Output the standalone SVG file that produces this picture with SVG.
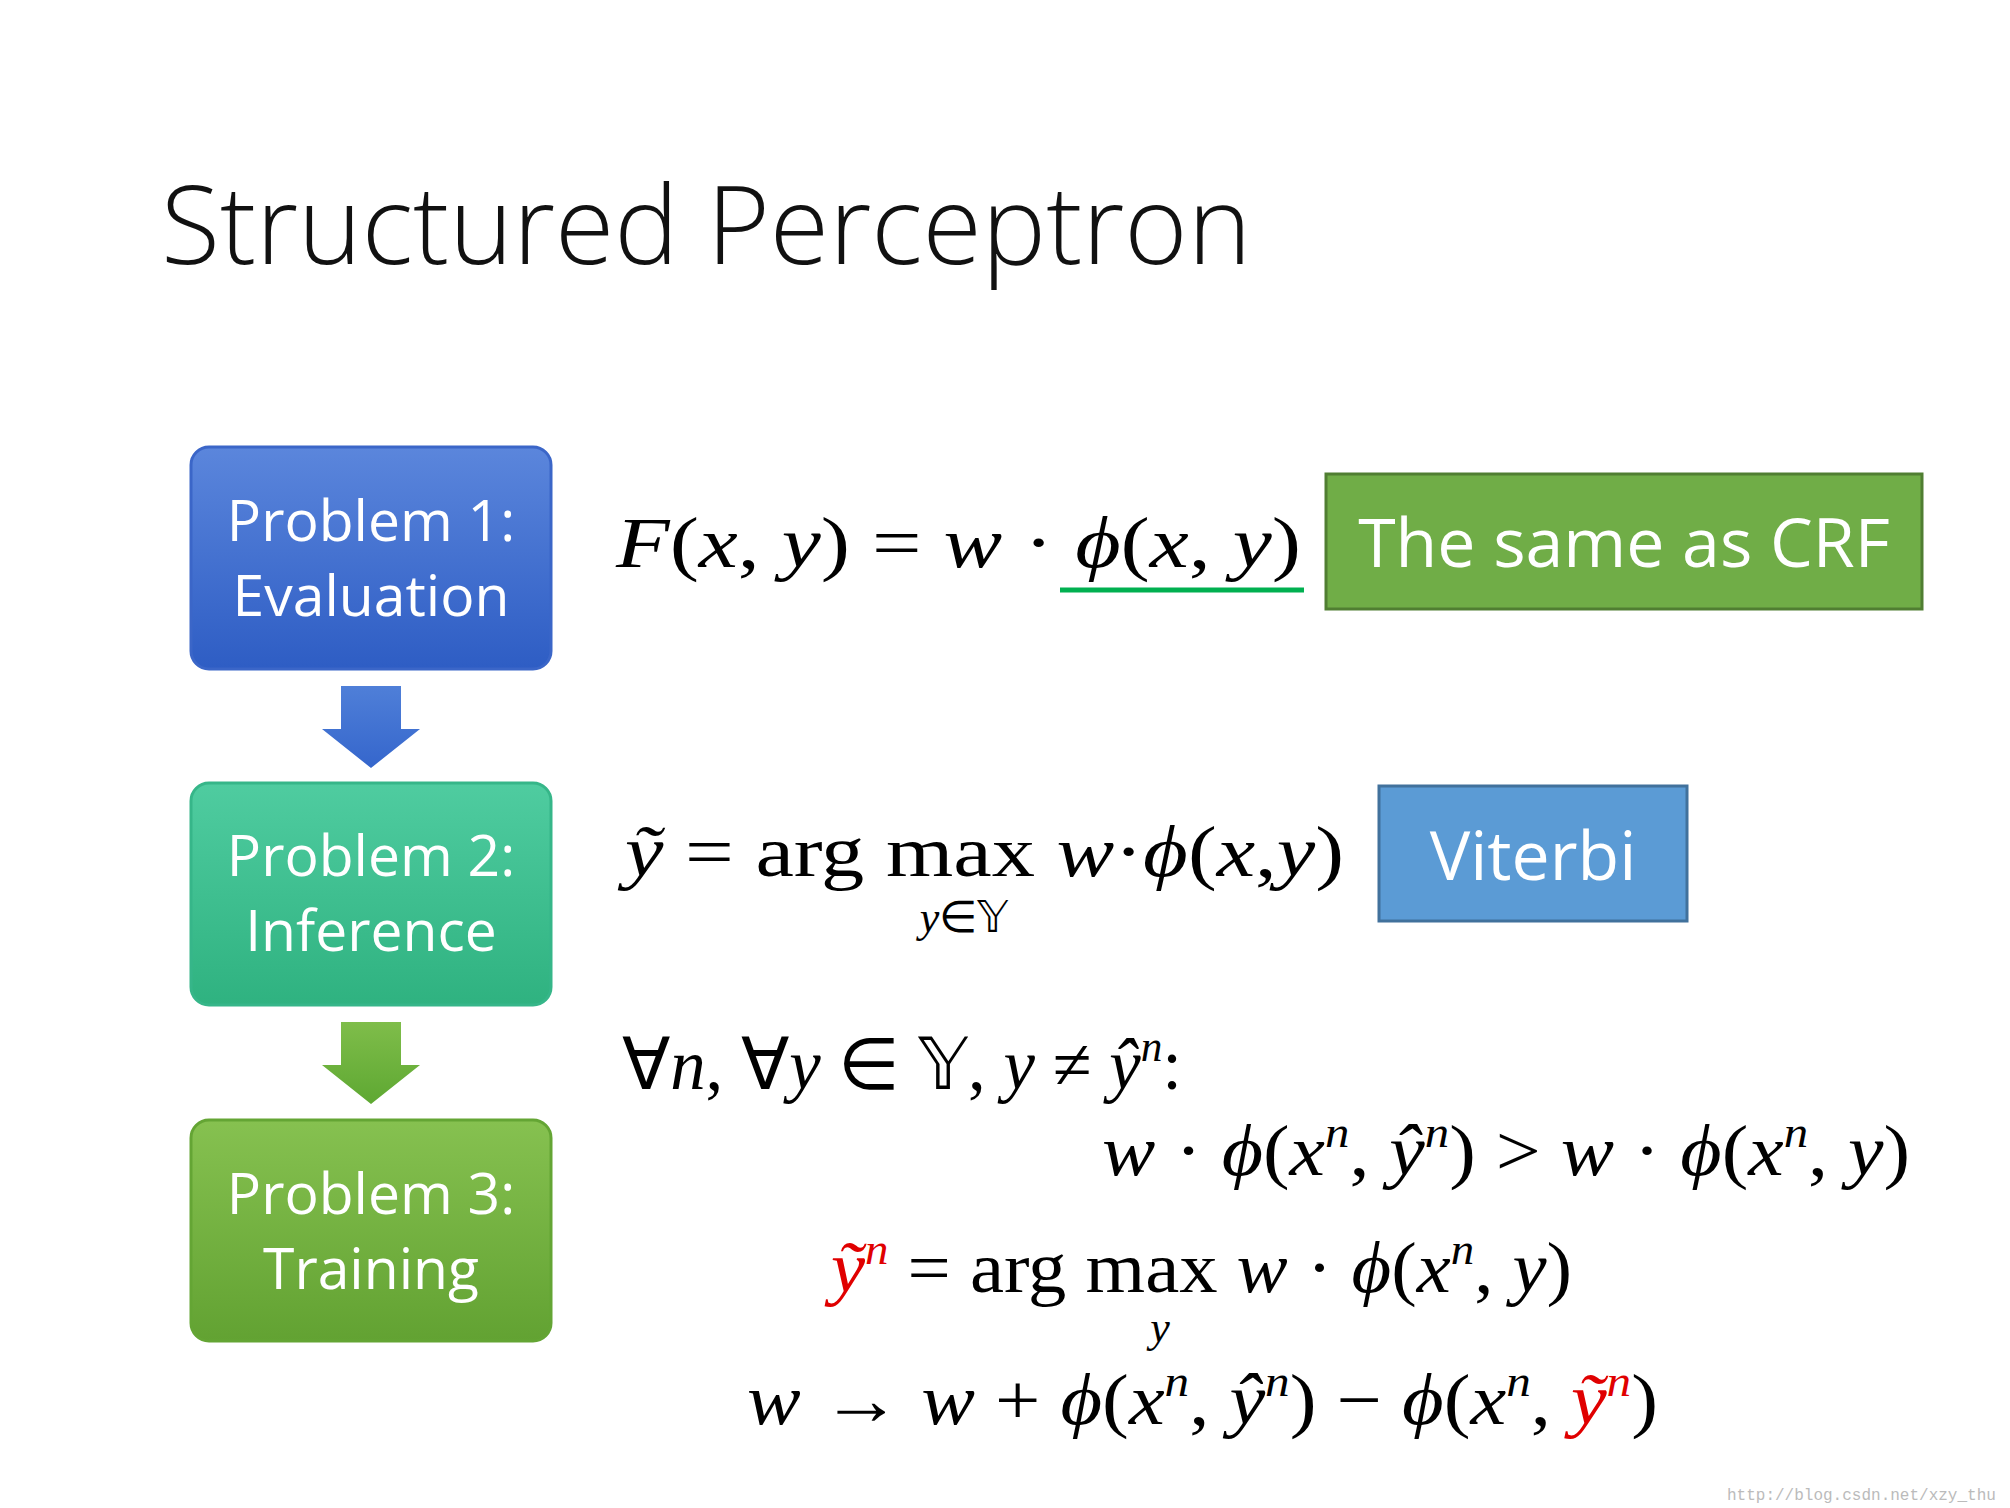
<svg xmlns="http://www.w3.org/2000/svg" width="2010" height="1508" viewBox="0 0 2010 1508">
<style>
.bt{font-family:"Open Sans","Liberation Sans",sans-serif;font-size:57px;fill:#fff;text-anchor:middle}
.m{font-family:"Liberation Serif",serif;font-size:72px;fill:#000}
.i{font-style:italic}
.r{fill:#e00000}
.s{font-size:44px}
.sup{font-size:44px}
</style>
<defs>
<linearGradient id="gb" x1="0" y1="0" x2="0" y2="1"><stop offset="0" stop-color="#5b86dc"/><stop offset="1" stop-color="#2e5dc4"/></linearGradient>
<linearGradient id="gt" x1="0" y1="0" x2="0" y2="1"><stop offset="0" stop-color="#4fcca0"/><stop offset="1" stop-color="#2fb280"/></linearGradient>
<linearGradient id="gg" x1="0" y1="0" x2="0" y2="1"><stop offset="0" stop-color="#86c150"/><stop offset="1" stop-color="#62a232"/></linearGradient>
<linearGradient id="ab" x1="0" y1="0" x2="0" y2="1"><stop offset="0" stop-color="#4f7fd8"/><stop offset="1" stop-color="#3566cc"/></linearGradient>
<linearGradient id="ag" x1="0" y1="0" x2="0" y2="1"><stop offset="0" stop-color="#7fbd4a"/><stop offset="1" stop-color="#5ea832"/></linearGradient>
</defs>
<rect width="2010" height="1508" fill="#fff"/>
<text x="161" y="264" font-family="'Open Sans','Liberation Sans',sans-serif" font-weight="300" font-size="108" fill="#111">Structured Perceptron</text>

<g id="p1"><rect x="191" y="447" width="360" height="222" rx="18" fill="url(#gb)" stroke="#3b66c8" stroke-width="3"/>
<text class="bt" x="371" y="541">Problem 1:</text><text class="bt" x="371" y="616">Evaluation</text></g>
<g id="p2"><rect x="191" y="783" width="360" height="222" rx="18" fill="url(#gt)" stroke="#36b689" stroke-width="3"/>
<text class="bt" x="371" y="876">Problem 2:</text><text class="bt" x="371" y="951">Inference</text></g>
<g id="p3"><rect x="191" y="1120" width="360" height="221" rx="18" fill="url(#gg)" stroke="#64a534" stroke-width="3"/>
<text class="bt" x="371" y="1214">Problem 3:</text><text class="bt" x="371" y="1289">Training</text></g>

<g id="connectors">
<polygon points="341,686 401,686 401,729 420,729 371,768 322,729 341,729" fill="url(#ab)"/>
<polygon points="341,1022 401,1022 401,1065 420,1065 371,1104 322,1065 341,1065" fill="url(#ag)"/>
</g>

<g id="crf"><rect x="1326" y="474" width="596" height="135" fill="#70ad47" stroke="#507e32" stroke-width="3"/>
<text x="1624" y="567" font-family="'Open Sans','Liberation Sans',sans-serif" font-size="68" fill="#fff" text-anchor="middle">The same as CRF</text></g>
<g id="viterbi"><rect x="1379" y="786" width="308" height="135" fill="#5b9bd5" stroke="#41719c" stroke-width="3"/>
<text x="1533" y="880" font-family="'Open Sans','Liberation Sans',sans-serif" font-size="68" fill="#fff" text-anchor="middle">Viterbi</text></g>

<g id="formulas">
<text class="m" x="616" y="567" textLength="685" lengthAdjust="spacingAndGlyphs"><tspan class="i">F</tspan>(<tspan class="i">x</tspan>, <tspan class="i">y</tspan>) = <tspan class="i">w</tspan> · <tspan class="i">ϕ</tspan>(<tspan class="i">x</tspan>, <tspan class="i">y</tspan>)</text>
<line x1="1060" y1="590" x2="1304" y2="590" stroke="#00b050" stroke-width="5"/>

<text class="m" x="625" y="876" textLength="719" lengthAdjust="spacingAndGlyphs"><tspan class="i">ỹ</tspan> = arg max <tspan class="i">w</tspan>·<tspan class="i">ϕ</tspan>(<tspan class="i">x</tspan>,<tspan class="i">y</tspan>)</text>
<text class="m s" x="964" y="932" text-anchor="middle"><tspan class="i">y</tspan>∈𝕐</text>

<text class="m" x="622" y="1089" textLength="560" lengthAdjust="spacingAndGlyphs"><tspan>∀</tspan><tspan class="i">n</tspan>, ∀<tspan class="i">y</tspan> ∈ 𝕐, <tspan class="i">y</tspan> ≠ <tspan class="i">ŷ</tspan><tspan class="i sup" dy="-28">n</tspan><tspan dy="28">:</tspan></text>

<text class="m" x="1102" y="1175" textLength="808" lengthAdjust="spacingAndGlyphs"><tspan class="i">w</tspan> · <tspan class="i">ϕ</tspan>(<tspan class="i">x</tspan><tspan class="i sup" dy="-28">n</tspan><tspan dy="28">, </tspan><tspan class="i">ŷ</tspan><tspan class="i sup" dy="-28">n</tspan><tspan dy="28">) &gt; </tspan><tspan class="i">w</tspan> · <tspan class="i">ϕ</tspan>(<tspan class="i">x</tspan><tspan class="i sup" dy="-28">n</tspan><tspan dy="28">, </tspan><tspan class="i">y</tspan>)</text>

<text class="m" x="831" y="1292" textLength="741" lengthAdjust="spacingAndGlyphs"><tspan class="i r">ỹ</tspan><tspan class="i sup r" dy="-28">n</tspan><tspan dy="28"> = arg max </tspan><tspan class="i">w</tspan> · <tspan class="i">ϕ</tspan>(<tspan class="i">x</tspan><tspan class="i sup" dy="-28">n</tspan><tspan dy="28">, </tspan><tspan class="i">y</tspan>)</text>
<text class="m s i" x="1160" y="1342" text-anchor="middle">y</text>

<text class="m" x="747" y="1424" textLength="911" lengthAdjust="spacingAndGlyphs"><tspan class="i">w</tspan> → <tspan class="i">w</tspan> + <tspan class="i">ϕ</tspan>(<tspan class="i">x</tspan><tspan class="i sup" dy="-28">n</tspan><tspan dy="28">, </tspan><tspan class="i">ŷ</tspan><tspan class="i sup" dy="-28">n</tspan><tspan dy="28">) − </tspan><tspan class="i">ϕ</tspan>(<tspan class="i">x</tspan><tspan class="i sup" dy="-28">n</tspan><tspan dy="28">, </tspan><tspan class="i r">ỹ</tspan><tspan class="i sup r" dy="-28">n</tspan><tspan dy="28">)</tspan></text>
</g>
<text x="1727" y="1500" font-family="'Liberation Mono',monospace" font-size="16" fill="#bbb">http://blog.csdn.net/xzy_thu</text>
</svg>
